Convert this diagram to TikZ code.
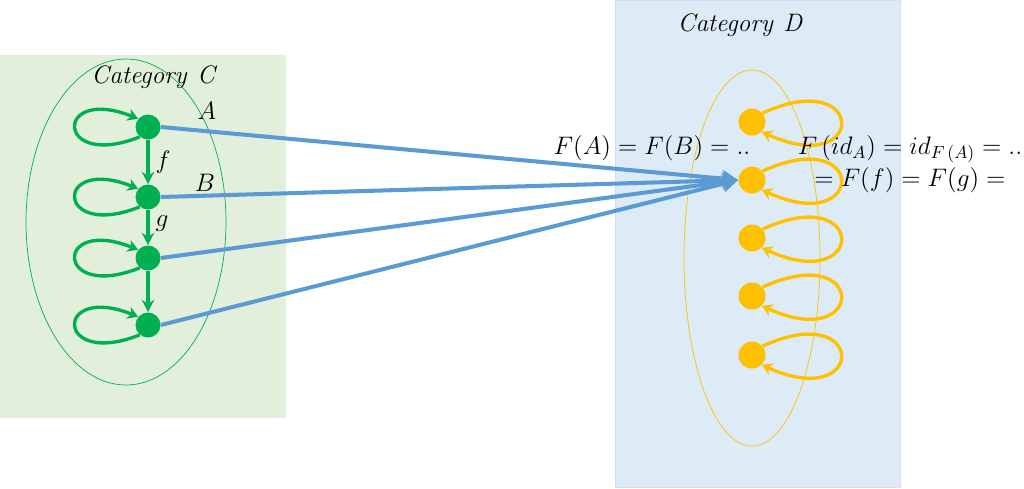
\documentclass[tikz,border=0pt]{standalone}
\usepackage{amsmath}
\usetikzlibrary{arrows.meta}
\definecolor{catgreen}{HTML}{00B050}
\definecolor{catyellow}{HTML}{FFC000}
\definecolor{funblue}{HTML}{5B9BD5}
\definecolor{boxgreen}{HTML}{E2EFDA}
\definecolor{boxblue}{HTML}{DDEBF7}
\tikzset{
  objC/.style={circle,fill=catgreen,inner sep=0pt,minimum size=0.5cm},
  objD/.style={circle,fill=catyellow,inner sep=0pt,minimum size=0.54cm},
  loopC/.style={draw=catgreen,line width=1.9pt,-{Stealth[length=6pt,width=7pt]}},
  loopD/.style={draw=catyellow,line width=1.9pt,-{Stealth[length=6pt,width=7pt]}},
  morph/.style={draw=catgreen,line width=1.9pt,-{Stealth[length=7pt,width=7pt]}},
  fun/.style={draw=funblue,line width=2.3pt,-{Stealth[length=9pt,width=10pt]}},
  lbl/.style={font=\fontsize{14.5}{17}\selectfont}
}
\begin{document}
\begin{tikzpicture}[x=0.02cm,y=-0.02cm]
    \useasboundingbox (0,0) rectangle (1024,488);

    % backgrounds
    \fill [boxgreen] (0,55) rectangle (286,418);
    \filldraw [fill=boxblue,draw=blue!15] (615,0) rectangle (900,487);
    \draw [catgreen] (126,222) ellipse [x radius=100,y radius=163];
    \draw [catyellow] (752,258) ellipse [x radius=68,y radius=188];

    \node [lbl] (catC) at (155,77) {$\mathit{Category\ C}$};
    \node [lbl] (catD) at (741,25) {$\mathit{Category\ D}$};

    % objects of C
    \foreach \n/\y in {1/127,2/197,3/258,4/325}
      \node [objC] (c\n) at (148,\y) {};

    % objects of D
    \foreach \n/\y in {1/122,2/180,3/238,4/296,5/355}
      \node [objD] (d\n) at (752,\y) {};

    % identities
    \foreach \n in {1,...,4}
      \draw [loopC] (c\n.230) .. controls +(-85,34) and +(-85,-34) .. (c\n.140);
    \foreach \n in {1,...,5}
      \draw [loopD] (d\n.40) .. controls +(105,-48) and +(105,48) .. (d\n.-45);

    % morphisms
    \draw [morph] (c1) -- (c2) node [midway,right,lbl] {$f$};
    \draw [morph] (c2) -- (c3) node [midway,right,lbl,yshift=2pt] {$g$};
    \draw [morph] (c3) -- (c4);

    \node [lbl] (labA) at (207,111) {$A$};
    \node [lbl] (labB) at (205,183) {$B$};

    % functor
    \coordinate (tgt) at (738,180);
    \foreach \n in {1,...,4}
      \draw [fun] (c\n.east) -- (tgt);

    \node [lbl] (eqObj) at (652,148) {$F(A)=F(B)=..$};
    \node [lbl,align=center] (eqMor) at (910,164)
      {$F\,(id_A)=id_{F\,(A)}=..$\\[1pt]$=F(f)=F(g)=$};
\end{tikzpicture}
\end{document}
